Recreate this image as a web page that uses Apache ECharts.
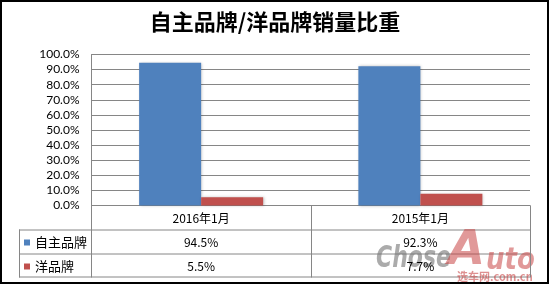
<!DOCTYPE html>
<html><head><meta charset="utf-8">
<script src="https://cdn.jsdelivr.net/npm/echarts@6/dist/echarts.min.js"></script>
<style>html,body{margin:0;padding:0;background:#fff}#c{width:550px;height:285px}</style>
</head><body><div id="c"></div>
<script>
const title = '自主品牌/洋品牌销量比重';
const categories = ['2016年1月', '2015年1月'];
const seriesNames = ['自主品牌', '洋品牌'];
const domestic = [94.5, 92.3];
const foreign = [5.5, 7.7];
const yTicks = [0, 10, 20, 30, 40, 50, 60, 70, 80, 90, 100];

const colors = ['#4F81BD', '#C0504D'];
const gridL = 91.5, gridR = 530, gridT = 54.5, gridB = 205.5;
const rowH = 24;
const lineCol = '#868686';

const chart = echarts.init(document.getElementById('c'), null, {renderer: 'canvas'});
const hl = (y, x1) => ({type: 'line', shape: {x1: x1, y1: y, x2: gridR, y2: y}, style: {stroke: lineCol, lineWidth: 1}, silent: true});
chart.setOption({
  animation: false,
  title: {text: title, left: 'center', top: 6, textStyle: {fontFamily: 'Noto Sans CJK SC', fontSize: 22, fontWeight: 'bold', color: '#000'}},
  grid: {left: gridL, right: 550 - gridR, top: gridT, bottom: 285 - gridB, containLabel: false},
  legend: {
    orient: 'vertical', left: 24, top: gridB + rowH + 1, itemGap: 0, itemWidth: 6, itemHeight: 6,
    icon: 'rect', data: seriesNames,
    textStyle: {fontFamily: 'Noto Sans CJK SC', fontSize: 13, color: '#000', lineHeight: rowH, padding: [0, 0, 0, 0]},
    padding: 0
  },
  xAxis: {
    type: 'category', data: categories,
    axisLine: {show: true, lineStyle: {color: lineCol, width: 1}},
    axisTick: {show: true, length: rowH * 3, lineStyle: {color: lineCol}},
    axisLabel: {
      margin: 1, lineHeight: rowH, fontFamily: 'Noto Sans CJK SC', fontSize: 12, color: '#000',
      formatter: (v, i) => v + '\n' + domestic[i].toFixed(1) + '%\n' + foreign[i].toFixed(1) + '%'
    }
  },
  yAxis: {
    type: 'value', min: 0, max: 100, interval: 10,
    axisLine: {show: true, lineStyle: {color: lineCol}},
    axisTick: {show: false},
    splitLine: {lineStyle: {color: lineCol, width: 1}},
    axisLabel: {margin: 12, fontFamily: 'Lato', fontSize: 12, color: '#000', formatter: v => yTicks.includes(v) ? v.toFixed(1) + '%' : ''}
  },
  series: [
    {name: seriesNames[0], type: 'bar', data: domestic, barWidth: 62, barGap: '0%', itemStyle: {color: colors[0], shadowColor: 'rgba(0,0,0,0.25)', shadowBlur: 3, shadowOffsetX: 1}},
    {name: seriesNames[1], type: 'bar', data: foreign, barWidth: 62, barGap: '0%', itemStyle: {color: colors[1], shadowColor: 'rgba(0,0,0,0.25)', shadowBlur: 3, shadowOffsetX: 1}}
  ],
  graphic: [
    hl(gridB + rowH + 0.5, 19),
    hl(gridB + rowH * 2 + 0.5, 19),
    hl(gridB + rowH * 3 - 0.5, 19),
    {type: 'line', shape: {x1: 19.5, y1: gridB + rowH, x2: 19.5, y2: gridB + rowH * 3}, style: {stroke: lineCol, lineWidth: 1}},
    {type: 'text', x: 376, y: 244, scaleY: 1.35, style: {text: 'Chose', font: 'italic bold 22px "DejaVu Sans"', fill: 'rgba(115,115,115,0.6)'}},
    {type: 'text', x: 448, y: 228, style: {text: 'A', font: 'italic bold 48px "DejaVu Sans"', fill: 'rgba(200,70,70,0.55)'}},
    {type: 'text', x: 486, y: 246, scaleY: 1.15, style: {text: 'uto', font: 'italic bold 26px "DejaVu Sans"', fill: 'rgba(200,70,70,0.55)'}},
    {type: 'text', x: 457, y: 271, style: {text: '选车网.com.cn', font: 'bold 11px "Noto Sans CJK SC"', fill: 'rgba(200,70,70,0.6)'}},
    {type: 'rect', shape: {x: 1, y: 1, width: 547, height: 282}, style: {fill: 'none', stroke: '#000', lineWidth: 2}, silent: true}
  ]
});
</script></body></html>
